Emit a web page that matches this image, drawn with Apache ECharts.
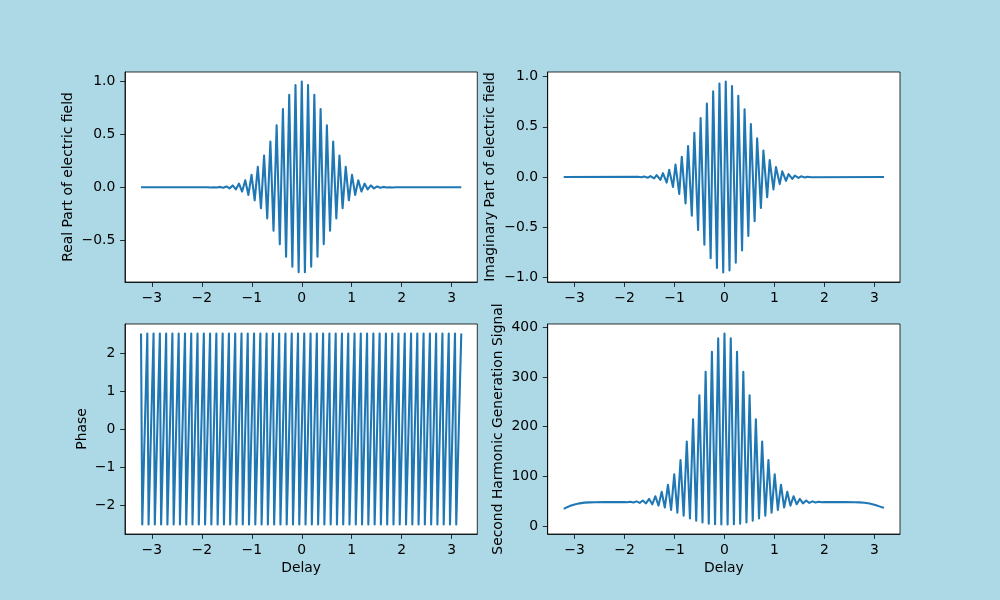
<!DOCTYPE html>
<html><head><meta charset="utf-8">
<script src="https://cdn.jsdelivr.net/npm/echarts@6/dist/echarts.min.js"></script>
<style>html,body{margin:0;padding:0;background:#add8e6}#c{width:1000px;height:600px}</style>
</head><body><div id="c"></div>
<script>
// ---- data ----
const windowEdge = [-3.217, 3.192];
const fringeDelay = [
 -1.9478, -1.8850, -1.8221, -1.7593, -1.6965, -1.6336, -1.5708, -1.5080, -1.4451, -1.3823,
 -1.3195, -1.2566, -1.1938, -1.1310, -1.0681, -1.0053, -0.9425, -0.8796, -0.8168, -0.7540,
 -0.6912, -0.6283, -0.5655, -0.5027, -0.4398, -0.3770, -0.3142, -0.2513, -0.1885, -0.1257,
 -0.0628, 0, 0.0628, 0.1257, 0.1885, 0.2513, 0.3142, 0.3770, 0.4398, 0.5027,
 0.5655, 0.6283, 0.6912, 0.7540, 0.8168, 0.8796, 0.9425, 1.0053, 1.0681, 1.1310,
 1.1938, 1.2566, 1.3195, 1.3823, 1.4451, 1.5080, 1.5708, 1.6336, 1.6965, 1.7593,
 1.8221, 1.8850, 1.9478];
const realPart = [
 0.000, 0.000, -0.001, 0.001, -0.002, 0.004, -0.004, 0.008, -0.010, 0.018,
 -0.020, 0.035, -0.040, 0.067, -0.072, 0.118, -0.123, 0.194, -0.197, 0.300,
 -0.294, 0.433, -0.411, 0.586, -0.537, 0.740, -0.656, 0.875, -0.750, 0.967,
 -0.802, 1.000, -0.802, 0.967, -0.750, 0.875, -0.656, 0.740, -0.537, 0.586,
 -0.411, 0.433, -0.294, 0.300, -0.197, 0.194, -0.123, 0.118, -0.072, 0.067,
 -0.040, 0.035, -0.020, 0.018, -0.010, 0.008, -0.004, 0.004, -0.002, 0.001,
 -0.001, 0.000, 0.000];
const shgSignal = [
 48.1, 49.2, 47.7, 50.0, 47.0, 51.7, 45.9, 54.8, 44.1, 60.3,
 41.4, 69.3, 37.6, 83.4, 32.8, 104.3, 27.3, 133.2, 21.3, 170.4,
 15.7, 214.7, 10.9, 263.0, 7.4, 310.3, 5.2, 350.6, 4.0, 377.6,
 3.6, 387.2, 3.6, 377.6, 4.0, 350.6, 5.2, 310.3, 7.4, 263.0,
 10.9, 214.7, 15.7, 170.4, 21.3, 133.2, 27.3, 104.3, 32.8, 83.4,
 37.6, 69.3, 41.4, 60.3, 44.1, 54.8, 45.9, 51.7, 47.0, 50.0,
 47.7, 49.2, 48.1];
const shgLeftDelay = [-3.217, -3.15, -3.1, -3.05, -3.0, -2.9, -2.8, -2.7, -2.6, -2.4, -2.2, -2.0];
const shgLeftSignal = [35.0, 38.3, 40.5, 42.2, 43.8, 46.0, 47.4, 48.0, 48.3, 48.4, 48.4, 48.4];
const shgRightDelay = [2.0, 2.2, 2.4, 2.6, 2.7, 2.8, 2.9, 3.0, 3.05, 3.1, 3.15, 3.192];
const shgRightSignal = [48.4, 48.4, 48.4, 48.2, 47.9, 47.1, 45.6, 43.2, 41.6, 39.9, 38.2, 37.0];
const imagDelay = [
 -1.7342, -1.6588, -1.6085, -1.5331, -1.4828, -1.4074, -1.3572, -1.2818, -1.2315, -1.1561,
 -1.1058, -1.0304, -0.9802, -0.9048, -0.8545, -0.7791, -0.7288, -0.6535, -0.6032, -0.5278,
 -0.4775, -0.4021, -0.3519, -0.2765, -0.2262, -0.1508, -0.1005, -0.0251, 0.0251, 0.1005,
 0.1508, 0.2262, 0.2765, 0.3519, 0.4021, 0.4775, 0.5278, 0.6032, 0.6535, 0.7288,
 0.7791, 0.8545, 0.9048, 0.9802, 1.0304, 1.1058, 1.1561, 1.2315, 1.2818, 1.3572,
 1.4074, 1.4828, 1.5331, 1.6085, 1.6588, 1.7342];
const imagPart = [
 0.002, -0.003, 0.004, -0.007, 0.009, -0.014, 0.019, -0.029, 0.038, -0.056,
 0.071, -0.100, 0.124, -0.168, 0.202, -0.263, 0.309, -0.385, 0.440, -0.527,
 0.587, -0.675, 0.732, -0.809, 0.853, -0.906, 0.931, -0.950, 0.950, -0.931,
 0.906, -0.853, 0.809, -0.732, 0.675, -0.587, 0.527, -0.440, 0.385, -0.309,
 0.263, -0.202, 0.168, -0.124, 0.100, -0.071, 0.056, -0.038, 0.029, -0.019,
 0.014, -0.009, 0.007, -0.004, 0.003, -0.002];
const phaseDelay = [
 -3.217, -3.192, -3.091, -3.066, -2.966, -2.941, -2.840, -2.815, -2.714, -2.689,
 -2.589, -2.564, -2.463, -2.438, -2.337, -2.312, -2.212, -2.187, -2.086, -2.061,
 -1.960, -1.935, -1.835, -1.810, -1.709, -1.684, -1.583, -1.558, -1.458, -1.433,
 -1.332, -1.307, -1.206, -1.181, -1.081, -1.056, -0.955, -0.930, -0.829, -0.804,
 -0.704, -0.679, -0.578, -0.553, -0.452, -0.427, -0.327, -0.302, -0.201, -0.176,
 -0.075, -0.050, 0.050, 0.075, 0.176, 0.201, 0.302, 0.327, 0.427, 0.452,
 0.553, 0.578, 0.679, 0.704, 0.804, 0.829, 0.930, 0.955, 1.056, 1.081,
 1.181, 1.206, 1.307, 1.332, 1.433, 1.458, 1.558, 1.583, 1.684, 1.709,
 1.810, 1.835, 1.935, 1.960, 2.061, 2.086, 2.187, 2.212, 2.312, 2.337,
 2.438, 2.463, 2.564, 2.589, 2.689, 2.714, 2.815, 2.840, 2.941, 2.966,
 3.066, 3.091, 3.192];
const phaseValue = [
 2.513, -2.513, 2.513, -2.513, 2.513, -2.513, 2.513, -2.513, 2.513, -2.513,
 2.513, -2.513, 2.513, -2.513, 2.513, -2.513, 2.513, -2.513, 2.513, -2.513,
 2.513, -2.513, 2.513, -2.513, 2.513, -2.513, 2.513, -2.513, 2.513, -2.513,
 2.513, -2.513, 2.513, -2.513, 2.513, -2.513, 2.513, -2.513, 2.513, -2.513,
 2.513, -2.513, 2.513, -2.513, 2.513, -2.513, 2.513, -2.513, 2.513, -2.513,
 2.513, -2.513, 2.513, -2.513, 2.513, -2.513, 2.513, -2.513, 2.513, -2.513,
 2.513, -2.513, 2.513, -2.513, 2.513, -2.513, 2.513, -2.513, 2.513, -2.513,
 2.513, -2.513, 2.513, -2.513, 2.513, -2.513, 2.513, -2.513, 2.513, -2.513,
 2.513, -2.513, 2.513, -2.513, 2.513, -2.513, 2.513, -2.513, 2.513, -2.513,
 2.513, -2.513, 2.513, -2.513, 2.513, -2.513, 2.513, -2.513, 2.513, -2.513,
 2.513, -2.513, 2.513];
const xTicks = [-3, -2, -1, 0, 1, 2, 3];
const realTicks = [-0.5, 0, 0.5, 1.0];
const imagTicks = [-1.0, -0.5, 0, 0.5, 1.0];
const phaseTicks = [-2, -1, 0, 1, 2];
const shgTicks = [0, 100, 200, 300, 400];

// ---- build ----
const zip = (xs, ys) => xs.map((x, i) => [x, ys[i]]);
const realData = [[windowEdge[0], 0]].concat(zip(fringeDelay, realPart), [[windowEdge[1], 0]]);
const imagData = [[windowEdge[0], 0]].concat(zip(imagDelay, imagPart), [[windowEdge[1], 0]]);
const phaseData = zip(phaseDelay, phaseValue);
const shgData = zip(shgLeftDelay, shgLeftSignal).concat(zip(fringeDelay, shgSignal), zip(shgRightDelay, shgRightSignal));

const FONT = 'DejaVu Sans';
const FS = 13.9;
const minus = s => String(s).replace('-', '\u2212');
const fmt0 = v => minus(Math.round(v));
const fmt1 = v => minus(v.toFixed(1));

const grids = [
  {left: 125, top: 72, width: 352.3, height: 210},
  {left: 547.7, top: 72, width: 352.3, height: 210},
  {left: 125, top: 324, width: 352.3, height: 210},
  {left: 547.7, top: 324, width: 352.3, height: 210}
].map(g => Object.assign(g, {show: true, backgroundColor: '#ffffff', borderColor: '#000', borderWidth: 0.8}));

function xAx(gi, name) {
  return {
    type: 'value', gridIndex: gi, min: -3.5375, max: 3.5125,
    splitLine: {show: false},
    axisLine: {show: true, onZero: false, lineStyle: {color: '#000', width: 0.8}},
    axisTick: {show: true, customValues: xTicks, length: 4.9, lineStyle: {color: '#000', width: 0.8}},
    axisLabel: {customValues: xTicks, margin: 9.7, color: '#000', fontSize: FS, fontFamily: FONT, formatter: fmt0},
    name: name, nameLocation: 'middle', nameGap: 27,
    nameTextStyle: {color: '#000', fontSize: FS, fontFamily: FONT}
  };
}
function yAx(gi, min, max, ticks, fmt, name, gap) {
  return {
    type: 'value', gridIndex: gi, min: min, max: max,
    splitLine: {show: false},
    axisLine: {show: true, onZero: false, lineStyle: {color: '#000', width: 0.8}},
    axisTick: {show: true, customValues: ticks, length: 4.9, lineStyle: {color: '#000', width: 0.8}},
    axisLabel: {customValues: ticks, margin: 9.7, color: '#000', fontSize: FS, fontFamily: FONT, formatter: fmt},
    name: name, nameLocation: 'middle', nameRotate: 90, nameGap: gap,
    nameTextStyle: {color: '#000', fontSize: FS, fontFamily: FONT}
  };
}
function ser(i, data) {
  return {
    type: 'line', xAxisIndex: i, yAxisIndex: i, data: data,
    showSymbol: false, symbol: 'none', silent: true,
    lineStyle: {color: '#1f77b4', width: 2.08, join: 'round', cap: 'butt'}
  };
}

const chart = echarts.init(document.getElementById('c'), null, {renderer: 'canvas'});
chart.setOption({
  backgroundColor: '#add8e6',
  animation: false,
  grid: grids,
  xAxis: [xAx(0, ''), xAx(1, ''), xAx(2, 'Delay'), xAx(3, 'Delay')],
  yAxis: [
    yAx(0, -0.895, 1.090, realTicks, fmt1, 'Real Part of electric field', 50),
    yAx(1, -1.045, 1.045, imagTicks, fmt1, 'Imaginary Part of electric field', 50),
    yAx(2, -2.764, 2.764, phaseTicks, fmt0, 'Phase', 36),
    yAx(3, -15.6, 406.4, shgTicks, fmt0, 'Second Harmonic Generation Signal', 42)
  ],
  series: [ser(0, realData), ser(1, imagData), ser(2, phaseData), ser(3, shgData)]
});
</script>
</body></html>
